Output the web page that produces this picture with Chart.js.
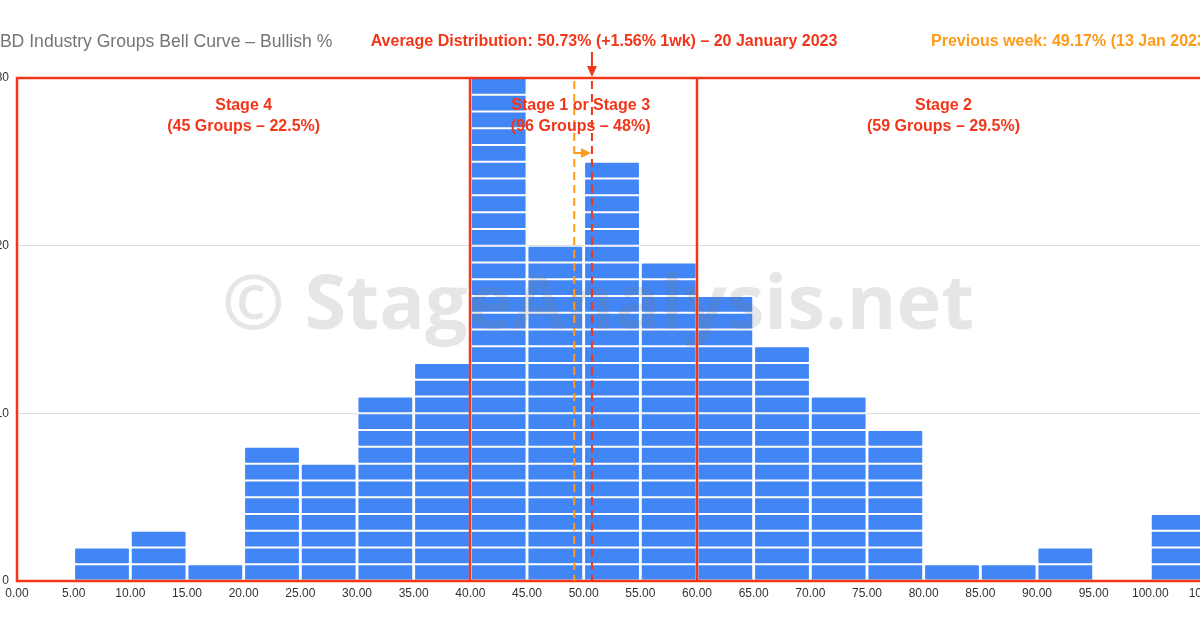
<!DOCTYPE html>
<html>
<head>
<meta charset="utf-8">
<script src="https://cdn.jsdelivr.net/npm/chart.js@4.4.1/dist/chart.umd.min.js"></script>
<style>
  html, body { margin: 0; padding: 0; width: 1200px; height: 630px; overflow: hidden; background: #fff; }
  #wrap { position: absolute; left: -20px; top: 0; width: 1260px; height: 630px; }
</style>
</head>
<body>
<div id="wrap"><canvas id="c" width="1260" height="630"></canvas></div>
<script>
// ---- Data ----
const binStarts = [0, 5, 10, 15, 20, 25, 30, 35, 40, 45, 50, 55, 60, 65, 70, 75, 80, 85, 90, 95, 100];
const groupCounts = [0, 2, 3, 1, 8, 7, 11, 13, 32, 20, 25, 19, 17, 14, 11, 9, 1, 1, 2, 0, 4];
const xTickValues = [0, 5, 10, 15, 20, 25, 30, 35, 40, 45, 50, 55, 60, 65, 70, 75, 80, 85, 90, 95, 100, 105];
const yTickValues = [0, 10, 20, 30];
const stageBounds = [40, 60];
const stageLabels = [
  ["Stage 4", "(45 Groups – 22.5%)"],
  ["Stage 1 or Stage 3", "(96 Groups – 48%)"],
  ["Stage 2", "(59 Groups – 29.5%)"]
];
const currentAvg = 50.73;
const previousAvg = 49.17;
const titleMain = "IBD Industry Groups Bell Curve – Bullish %";
const titleAvg = "Average Distribution: 50.73% (+1.56% 1wk) – 20 January 2023";
const titlePrev = "Previous week: 49.17% (13 Jan 2023)";
const watermark = "© StageAnalysis.net";

const BIN = 5;
const RED = '#f2361a';
const ORANGE = '#ff9a1a';
const BLUE = '#4285f4';

// Build one stacked dataset per unit level so each bar shows unit blocks
const maxCount = Math.max(...groupCounts);
const datasets = [];
for (let k = 1; k <= maxCount; k++) {
  datasets.push({
    label: 'level ' + k,
    data: binStarts.map((s, i) => ({ x: s + BIN / 2, y: groupCounts[i] >= k ? 1 : null })),
    backgroundColor: BLUE,
    borderColor: '#ffffff',
    borderWidth: 1,
    borderSkipped: false,
    borderRadius: 2,
    stack: 's',
    barPercentage: 0.985,
    categoryPercentage: 1.0
  });
}

const overlay = {
  id: 'overlay',
  afterDatasetsDraw(chart) {
    const ctx = chart.ctx;
    const xs = chart.scales.x, ys = chart.scales.y;
    const ca = chart.chartArea;
    const top = ys.getPixelForValue(30), bot = ys.getPixelForValue(0);
    ctx.save();

    // Watermark
    ctx.font = 'bold 72px "Open Sans", sans-serif';
    ctx.textAlign = 'center';
    ctx.textBaseline = 'middle';
    const w = ctx.measureText(watermark).width;
    const target = 753;
    const fs = 72 * target / w;
    ctx.font = 'bold ' + fs.toFixed(1) + 'px "Open Sans", sans-serif';
    ctx.fillStyle = 'rgba(120,120,120,0.19)';
    ctx.fillText(watermark, 618, 307);

    // Red frame
    ctx.strokeStyle = RED;
    ctx.lineWidth = 2.5;
    ctx.beginPath();
    ctx.moveTo(ca.right + 30, top);
    ctx.lineTo(ca.left, top);
    ctx.lineTo(ca.left, bot);
    ctx.lineTo(ca.right + 30, bot);
    ctx.stroke();
    stageBounds.forEach(v => {
      const px = Math.round(xs.getPixelForValue(v));
      ctx.beginPath();
      ctx.moveTo(px, top);
      ctx.lineTo(px, bot);
      ctx.stroke();
    });

    // Dashed lines
    ctx.lineWidth = 2;
    ctx.setLineDash([8, 5]);
    const pPrev = xs.getPixelForValue(previousAvg);
    const pCur = xs.getPixelForValue(currentAvg);
    ctx.strokeStyle = ORANGE;
    ctx.beginPath(); ctx.moveTo(pPrev, top + 3); ctx.lineTo(pPrev, bot); ctx.stroke();
    ctx.strokeStyle = RED;
    ctx.beginPath(); ctx.moveTo(pCur, top + 3); ctx.lineTo(pCur, bot); ctx.stroke();
    ctx.setLineDash([]);

    // Red arrow down to current average
    ctx.strokeStyle = RED; ctx.fillStyle = RED; ctx.lineWidth = 2;
    ctx.beginPath(); ctx.moveTo(pCur, 52); ctx.lineTo(pCur, 68); ctx.stroke();
    ctx.beginPath(); ctx.moveTo(pCur - 5, 66); ctx.lineTo(pCur + 5, 66); ctx.lineTo(pCur, 77); ctx.closePath(); ctx.fill();

    // Orange arrow right (prev -> current)
    const ay = 153;
    ctx.strokeStyle = ORANGE; ctx.fillStyle = ORANGE;
    ctx.beginPath(); ctx.moveTo(pPrev, ay); ctx.lineTo(pCur - 6, ay); ctx.stroke();
    ctx.beginPath(); ctx.moveTo(pCur - 11, ay - 5); ctx.lineTo(pCur - 11, ay + 5); ctx.lineTo(pCur - 1, ay); ctx.closePath(); ctx.fill();

    // Stage labels
    ctx.font = 'bold 16px "Liberation Sans", Arial, sans-serif';
    ctx.fillStyle = RED;
    ctx.textAlign = 'center';
    ctx.textBaseline = 'middle';
    const centers = [
      (xs.getPixelForValue(0) + xs.getPixelForValue(stageBounds[0])) / 2,
      (xs.getPixelForValue(stageBounds[0]) + xs.getPixelForValue(stageBounds[1])) / 2 - 3,
      (xs.getPixelForValue(stageBounds[1]) + xs.getPixelForValue(103.5)) / 2
    ];
    stageLabels.forEach((lines, i) => {
      ctx.fillText(lines[0], centers[i], 106);
      ctx.fillText(lines[1], centers[i], 127);
    });

    // Titles
    ctx.textBaseline = 'middle';
    ctx.textAlign = 'left';
    ctx.font = '17.6px "Liberation Sans", Arial, sans-serif';
    ctx.fillStyle = '#757575';
    ctx.fillText(titleMain, 15, 42);
    ctx.font = 'bold 16px "Liberation Sans", Arial, sans-serif';
    ctx.fillStyle = RED;
    ctx.textAlign = 'center';
    ctx.fillText(titleAvg, 624, 42);
    ctx.fillStyle = ORANGE;
    ctx.textAlign = 'left';
    ctx.fillText(titlePrev, 951, 42);
    ctx.restore();
  }
};

new Chart(document.getElementById('c'), {
  type: 'bar',
  data: { datasets },
  options: {
    responsive: false,
    animation: false,
    maintainAspectRatio: false,
    layout: { padding: { top: 78, right: 33, left: 0, bottom: 0 } },
    plugins: { legend: { display: false }, tooltip: { enabled: false } },
    scales: {
      x: {
        type: 'linear',
        stacked: true,
        min: 0,
        max: 105,
        offset: false,
        afterBuildTicks(scale) { scale.ticks = xTickValues.map(v => ({ value: v })); },
        afterFit(scale) { scale.height = 49; },
        grid: { display: false, drawTicks: false },
        border: { display: false },
        ticks: {
          padding: 5,
          maxRotation: 0,
          autoSkip: false,
          color: '#333',
          font: { family: '"Liberation Sans", Arial, sans-serif', size: 12 },
          callback: v => Number(v).toFixed(2)
        }
      },
      y: {
        stacked: true,
        min: 0,
        max: 30,
        afterBuildTicks(scale) { scale.ticks = yTickValues.map(v => ({ value: v })); },
        afterFit(scale) { scale.width = 37; },
        grid: { color: '#dddddd', drawTicks: false },
        border: { display: false },
        ticks: {
          padding: 8,
          color: '#333',
          font: { family: '"Liberation Sans", Arial, sans-serif', size: 12 }
        }
      }
    }
  },
  plugins: [overlay]
});
</script>
</body>
</html>
